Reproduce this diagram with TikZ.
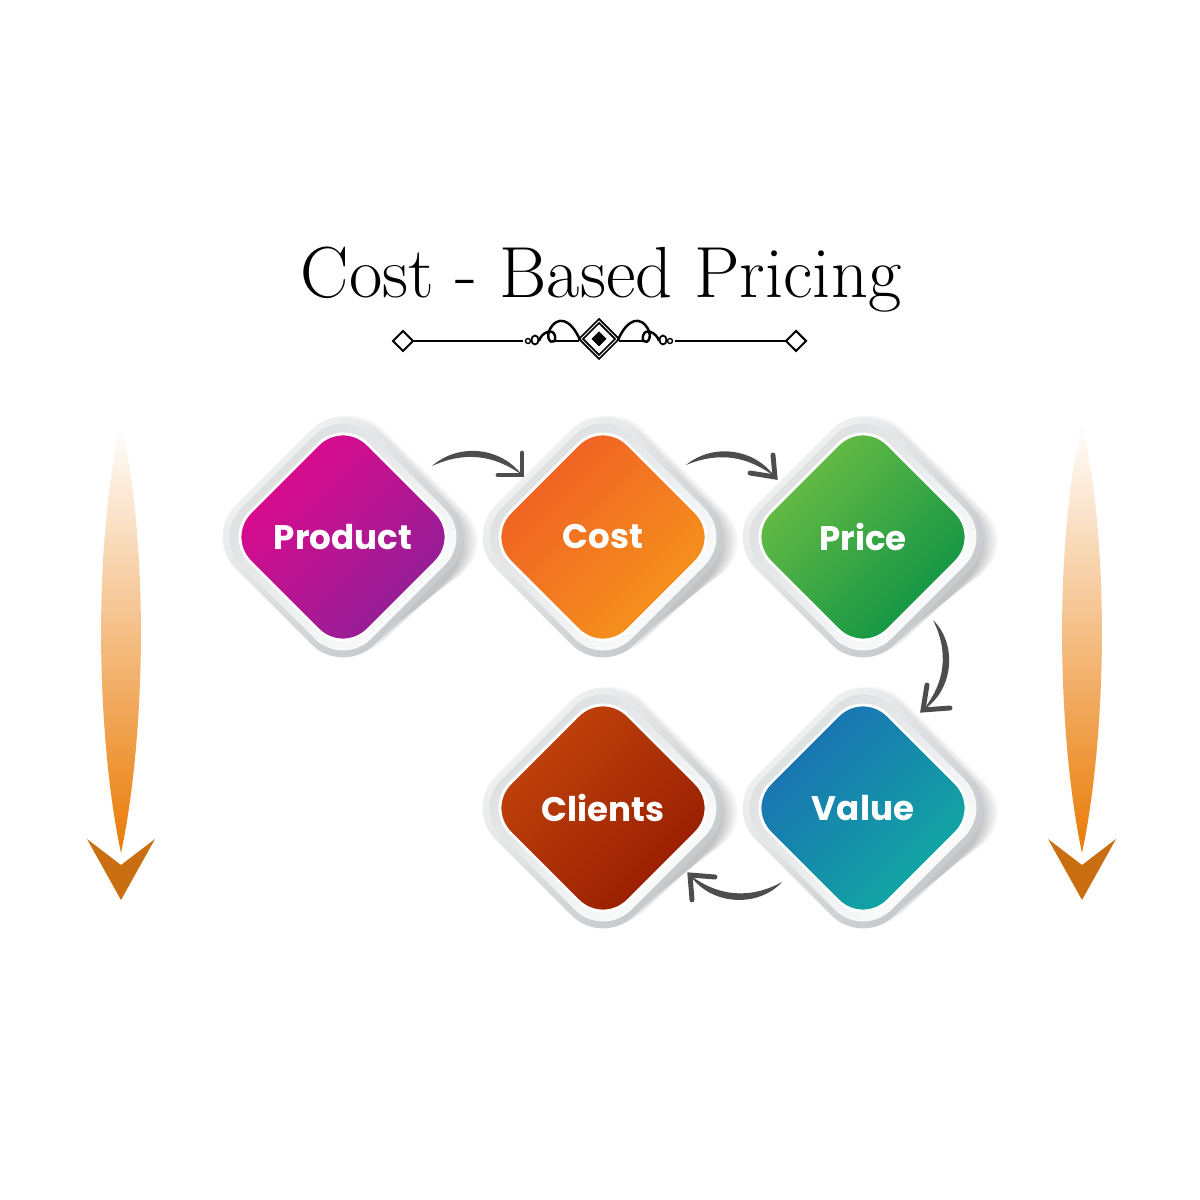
\documentclass[tikz,border=0pt]{standalone}
\usepackage{fontspec}
\newfontfamily\boxfont{Poppins}
\usetikzlibrary{arrows.meta,positioning}
\pgfdeclarelayer{back}
\pgfsetlayers{back,main}

\definecolor{prodA}{HTML}{E5078C}
\definecolor{prodB}{HTML}{8A2298}
\definecolor{costA}{HTML}{EE5B24}
\definecolor{costB}{HTML}{F7981C}
\definecolor{priceA}{HTML}{72C043}
\definecolor{priceB}{HTML}{079046}
\definecolor{valueA}{HTML}{1B6CB5}
\definecolor{valueB}{HTML}{10ADA0}
\definecolor{clientsA}{HTML}{C4460C}
\definecolor{clientsB}{HTML}{941A00}
\definecolor{framelight}{HTML}{F7F7F7}
\definecolor{framedark}{HTML}{BFC3C6}
\definecolor{arrowgray}{HTML}{4D4D4D}
\definecolor{bigorange}{HTML}{E97B06}
\definecolor{headorange}{HTML}{C96F12}

\tikzset{
  dpath/.style={insert path={(0,#1) -- (#1,0) -- (0,-#1) -- (-#1,0) -- cycle}},
  tag/.style={text=white, font={\boxfont\bfseries\fontsize{9.7}{12}\selectfont}},
  swoosh/.style={fill=arrowgray},
  barb/.style={draw=arrowgray, line width=1.4pt, line cap=round}
}

\begin{document}
\begin{tikzpicture}[node distance=2.6cm and 2.6cm, on grid]
\useasboundingbox (0,0) rectangle (12,12);

% title and ornament
\node[anchor=base, font={\fontsize{20.6}{24}\selectfont\addfontfeatures{FakeBold=0.7}}] (head) at (6.01,9.02) {Cost - Based Pricing};
\draw[line width=0.6pt] (4.12,8.59) -- (5.23,8.59) (6.75,8.59) -- (7.86,8.59);
\foreach \x in {4.03,7.96}
  \draw[line width=0.6pt, fill=white] (\x,8.69) -- (\x+0.1,8.59) -- (\x,8.49) -- (\x-0.1,8.59) -- cycle;
\begin{scope}[shift={(5.99,8.61)}]
  \draw[line width=0.5pt] (0,0.2) -- (0.2,0) -- (0,-0.2) -- (-0.2,0) -- cycle;
  \draw[line width=0.5pt] (0,0.16) -- (0.16,0) -- (0,-0.16) -- (-0.16,0) -- cycle;
  \fill (0,0.075) -- (0.075,0) -- (0,-0.075) -- (-0.075,0) -- cycle;
  \foreach \s in {1,-1} {
    \begin{scope}[xscale=\s]
      \draw[line width=0.7pt] (-0.19,-0.01) .. controls (-0.28,0.2) and (-0.42,0.25) .. (-0.5,0.08)
        .. controls (-0.54,-0.04) and (-0.42,-0.07) .. (-0.44,0.03)
        .. controls (-0.46,0.12) and (-0.58,0.06) .. (-0.6,-0.02);
      \draw[line width=0.5pt] (-0.64,-0.01) ellipse (0.035 and 0.045);
      \draw[line width=0.4pt] (-0.71,-0.02) circle (0.025);
      \draw[line width=0.5pt] (-0.45,-0.02) -- (-0.2,-0.02);
    \end{scope}
  }
\end{scope}

% side arrows
\foreach \x in {1.21,10.82} {
  \shade[top color=white, middle color=bigorange!55, bottom color=bigorange]
    (\x,7.77) .. controls (\x+0.29,6.5) and (\x+0.24,4.6) .. (\x,3.47)
    .. controls (\x-0.24,4.6) and (\x-0.29,6.5) .. cycle;
  \fill[headorange] (\x-0.34,3.61) -- (\x,3.35) -- (\x+0.34,3.61) -- (\x,3.0) -- cycle;
}

% steps
\node[tag] (prod) at (3.43,6.63) {Product};
\node[tag, right=of prod] (cost) {Cost};
\node[tag, right=of cost] (price) {Price};
\node[tag, below=2.71cm of price] (value) {Value};
\node[tag, left=of value] (clients) {Clients};

\begin{pgfonlayer}{back}
\fill[white] (0,0) rectangle (12,12);
\foreach \n/\ca/\cb in {prod/prodA/prodB, cost/costA/costB, price/priceA/priceB, value/valueA/valueB, clients/clientsA/clientsB} {
  \begin{scope}[shift={(\n.center)}]
    \foreach \k in {1,...,8}
      \fill[black, opacity=0.03, shift={(0.05,-0.09)}, rounded corners=0.5cm, dpath=1.32+0.025*\k];
    \shade[top color=framelight, bottom color=framedark, shading angle=45, rounded corners=0.45cm, dpath=1.39];
    \shade[top color=framedark!60, bottom color=white, shading angle=45, rounded corners=0.4cm, dpath=1.3];
    \shade[top color=\ca, bottom color=\cb, shading angle=45, rounded corners=0.35cm, draw=white, line width=0.8pt, dpath=1.175];
  \end{scope}
}
\end{pgfonlayer}

% connectors
\coordinate (s1) at ([shift={(0.89,0.71)}]prod.center);
\coordinate (t1) at ([shift={(-0.81,0.62)}]cost.center);
\fill[swoosh] (s1) to[bend left=47] (t1) to[bend right=30] (s1);
\draw[barb] ([shift={(0,0.22)}]t1) -- (t1) -- ([shift={(-0.24,0)}]t1);

\coordinate (s2) at ([shift={(0.83,0.72)}]cost.center);
\coordinate (t2) at ([shift={(-0.88,0.6)}]price.center);
\fill[swoosh] (s2) to[bend left=47] (t2) to[bend right=30] (s2);
\draw[barb] ([shift={(-0.02,0.22)}]t2) -- (t2) -- ([shift={(-0.25,0.04)}]t2);

\coordinate (s3) at ([shift={(0.7,-0.83)}]price.center);
\coordinate (t3) at ([shift={(0.6,0.98)}]value.center);
\fill[swoosh] (s3) to[bend left=52] (t3) to[bend right=33] (s3);
\draw[barb] ([shift={(0.04,0.25)}]t3) -- (t3) -- ([shift={(0.27,0.02)}]t3);

\coordinate (s4) at ([shift={(-0.81,-0.74)}]value.center);
\coordinate (t4) at ([shift={(0.87,-0.67)}]clients.center);
\fill[swoosh] (s4) to[bend left=52] (t4) to[bend right=33] (s4);
\draw[barb] ([shift={(0.25,-0.02)}]t4) -- (t4) -- ([shift={(0.02,-0.25)}]t4);
\end{tikzpicture}
\end{document}
